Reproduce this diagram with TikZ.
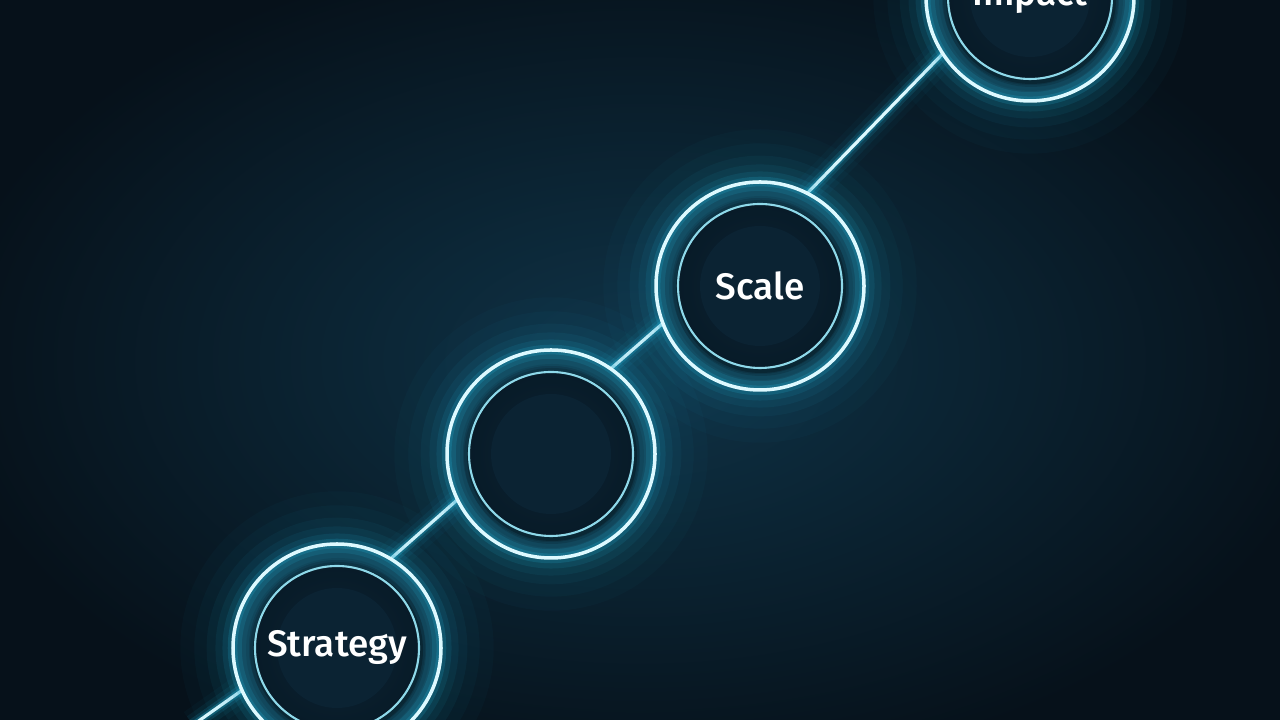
\documentclass[tikz,border=0pt]{standalone}
\usepackage{fontspec}
\setmainfont{Fira Sans}[BoldFont={* Medium}]
\definecolor{bgdark}{HTML}{06111A}
\definecolor{bglight}{HTML}{0F3347}
\definecolor{glow}{HTML}{1FA8CC}
\definecolor{ringline}{HTML}{DDF9FF}
\definecolor{ringfill}{HTML}{113B4F}
\definecolor{diskfill}{HTML}{0B2333}
\definecolor{diskedge}{HTML}{081B28}
\definecolor{diskline}{HTML}{8ED9EA}

\begin{document}
\begin{tikzpicture}[thick, scale=1,
  stage/.style={circle, minimum size=2.08cm, inner sep=0pt, outer sep=0pt},
  caption/.style={text=white, font=\bfseries\fontsize{10.5}{12}\selectfont},
  link/.style={ringline, line width=0.9pt, line cap=round}]
\useasboundingbox (0,0) rectangle (12.8,7.2);
\shade[inner color=bglight, outer color=bgdark] (-0.6,-0.6) rectangle (13.4,7.8);
\clip (0,0) rectangle (12.8,7.2);

\coordinate (start) at (1.93,-0.05);
\path (3.37,0.72) node[stage] (strategy) {};
\path (5.51,2.66) node[stage] (blank) {};
\path (7.60,4.34) node[stage] (scale) {};
\path (10.30,7.23) node[stage] (impact) {};

\foreach \a/\b in {start/strategy.204, strategy.59/blank.206, blank.55/scale.201, scale.63/impact.213}{
  \foreach \w/\o in {9/0.04,6/0.08,3.5/0.16,2/0.3}
    \draw[glow, line width=\w pt, opacity=\o] (\a) -- (\b);
  \draw[link] (\a) -- (\b);
}

\foreach \n in {strategy,blank,scale,impact}{
  \foreach \w/\o in {30/0.03,22/0.04,15/0.06,10/0.08,6/0.12,3/0.2}
    \draw[glow, line width=\w pt, opacity=\o] (\n) circle (1.04);
  \fill[ringfill] (\n) circle (1.04);
  \begin{scope}
    \clip (\n) circle (1.04);
    \foreach \w/\o in {14/0.08,9/0.11,5/0.17,2.5/0.25}
      \draw[glow, line width=\w pt, opacity=\o] (\n) circle (1.04);
  \end{scope}
  \foreach \r/\o in {0.92/0.08,0.88/0.14,0.85/0.24}
    \fill[black, opacity=\o] (\n) ++(0.01,-0.02) circle (\r);
  \shade[inner color=diskfill, outer color=diskedge] (\n) circle (0.82);
  \fill[diskfill] (\n) circle (0.6);
  \draw[diskline, line width=0.6pt] (\n) circle (0.82);
  \draw[ringline, line width=1pt] (\n) circle (1.04);
}

\node[caption] (strategy-text) at (strategy) {Strategy};
\node[caption] (scale-text) at (scale) {Scale};
\node[caption] (impact-text) at (impact) {Impact};
\end{tikzpicture}
\end{document}
